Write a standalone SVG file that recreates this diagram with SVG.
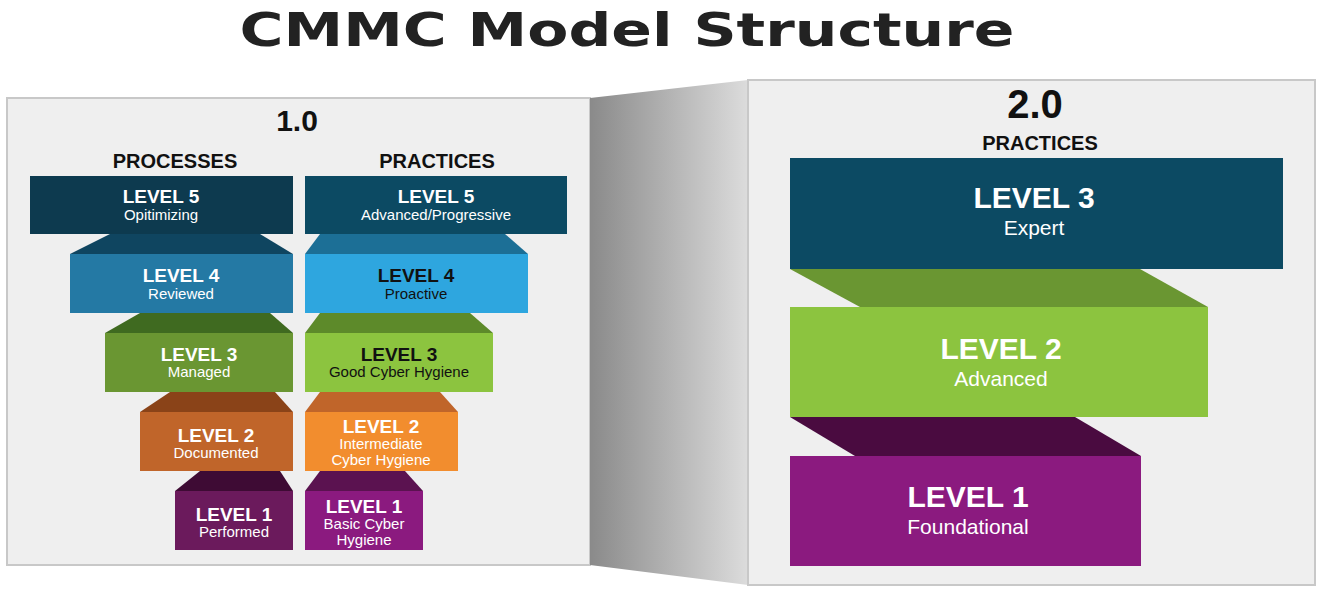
<svg xmlns="http://www.w3.org/2000/svg" width="1321" height="600" viewBox="0 0 1321 600">
<style>
.panel{fill:#efefef;stroke:#c8c8c8;stroke-width:2}
.t{font-family:"Liberation Sans",Arial,sans-serif;text-anchor:middle}
.lv{font-weight:bold;font-size:19px;fill:#fff}
.sb{font-size:15px;fill:#fff}
.dk{fill:#111}
.hd{font-weight:bold;font-size:20px;fill:#111}
.blv{font-weight:bold;font-size:30px;fill:#fff}
.bsb{font-size:21px;fill:#fff}
</style>
<defs>
<linearGradient id="g" x1="0" x2="1" y1="0" y2="0">
<stop offset="0" stop-color="#8a8a8a"/><stop offset="1" stop-color="#dcdcdc"/>
</linearGradient>
</defs>
<rect width="1321" height="600" fill="#fff"/>
<text x="627" y="46" class="t" textLength="775" lengthAdjust="spacingAndGlyphs" style="font-family:'DejaVu Sans',sans-serif;font-weight:bold;font-size:46px;fill:#222">CMMC Model Structure</text>
<rect class="panel" x="7" y="98" width="583" height="467"/>
<polygon points="590,98 748,80 748,585 590,565" fill="url(#g)"/>
<rect class="panel" x="748" y="80" width="567" height="505"/>
<text x="297" y="131" class="t" style="font-weight:bold;font-size:30px;fill:#111">1.0</text>
<text x="175" y="168" class="t hd">PROCESSES</text>
<text x="437" y="168" class="t hd">PRACTICES</text>
<g id="processes">
<polygon points="110,234 260,234 293,254 70,254" fill="#0f4560"/>
<polygon points="140,313 270,313 293,333 105,333" fill="#3f6a20"/>
<polygon points="170,392 275,392 293,412 140,412" fill="#8a4318"/>
<polygon points="200,471 280,471 293,491 175,491" fill="#3e0b34"/>
<rect x="30" y="176" width="263" height="58" fill="#0d3a4f"/>
<text x="161" y="203" class="t lv">LEVEL 5</text><text x="161" y="220" class="t sb">Opitimizing</text>
<rect x="70" y="254" width="223" height="59" fill="#2479a4"/>
<text x="181" y="282" class="t lv">LEVEL 4</text><text x="181" y="299" class="t sb">Reviewed</text>
<rect x="105" y="333" width="188" height="59" fill="#6a9632"/>
<text x="199" y="361" class="t lv">LEVEL 3</text><text x="199" y="377" class="t sb">Managed</text>
<rect x="140" y="412" width="153" height="59" fill="#c0652a"/>
<text x="216" y="442" class="t lv">LEVEL 2</text><text x="216" y="458" class="t sb">Documented</text>
<rect x="175" y="491" width="118" height="59" fill="#6b1a5c"/>
<text x="234" y="521" class="t lv">LEVEL 1</text><text x="234" y="537" class="t sb">Performed</text>
</g>
<g id="practices">
<polygon points="320,234 505,234 528,254 305,254" fill="#1c6f96"/>
<polygon points="320,313 470,313 493,333 305,333" fill="#5d8a2a"/>
<polygon points="320,392 440,392 458,412 305,412" fill="#c0652a"/>
<polygon points="320,471 405,471 423,491 305,491" fill="#5b1250"/>
<rect x="305" y="176" width="262" height="58" fill="#0c4a63"/>
<text x="436" y="203" class="t lv">LEVEL 5</text><text x="436" y="220" class="t sb">Advanced/Progressive</text>
<rect x="305" y="254" width="223" height="59" fill="#2ea6df"/>
<text x="416" y="282" class="t lv dk">LEVEL 4</text><text x="416" y="299" class="t sb dk">Proactive</text>
<rect x="305" y="333" width="188" height="59" fill="#8cc43f"/>
<text x="399" y="361" class="t lv dk">LEVEL 3</text><text x="399" y="377" class="t sb dk">Good Cyber Hygiene</text>
<rect x="305" y="412" width="153" height="59" fill="#f28d2e"/>
<text x="381" y="433" class="t lv">LEVEL 2</text><text x="381" y="449" class="t sb">Intermediate</text><text x="381" y="465" class="t sb">Cyber Hygiene</text>
<rect x="305" y="491" width="118" height="59" fill="#8b1a7f"/>
<text x="364" y="513" class="t lv">LEVEL 1</text><text x="364" y="529" class="t sb">Basic Cyber</text><text x="364" y="545" class="t sb">Hygiene</text>
</g>
<text x="1035" y="118" class="t" style="font-weight:bold;font-size:40px;fill:#111">2.0</text>
<text x="1040" y="150" class="t hd">PRACTICES</text>
<g id="v2">
<polygon points="790,269 1140,269 1208,307 860,307" fill="#6a9632"/>
<polygon points="790,417 1075,417 1141,456 855,456" fill="#4a0b40"/>
<rect x="790" y="158" width="493" height="111" fill="#0c4a63"/>
<text x="1034" y="208" class="t blv">LEVEL 3</text><text x="1034" y="235" class="t bsb">Expert</text>
<rect x="790" y="307" width="418" height="110" fill="#8cc43f"/>
<text x="1001" y="359" class="t blv dk">LEVEL 2</text><text x="1001" y="386" class="t bsb dk">Advanced</text>
<rect x="790" y="456" width="351" height="110" fill="#8b1a7f"/>
<text x="968" y="507" class="t blv">LEVEL 1</text><text x="968" y="534" class="t bsb">Foundational</text>
</g>
</svg>
